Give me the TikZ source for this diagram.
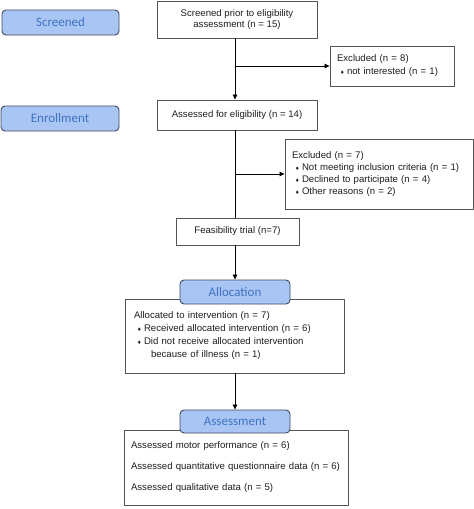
\documentclass[tikz,border=0pt]{standalone}
\usepackage{fontspec}
\setmainfont{Liberation Sans}
\newfontfamily\labfont{Carlito}
\newfontfamily\symfont{DejaVu Sans}
\usetikzlibrary{arrows.meta}
\definecolor{lblfill}{HTML}{A9C5F4}
\definecolor{lblborder}{HTML}{3E4A63}
\definecolor{lbltext}{HTML}{3F72C2}
\definecolor{boxgray}{HTML}{555555}
\definecolor{textc}{HTML}{1E1E1E}
\newcommand{\bul}{{\symfont\fontsize{5}{5}\selectfont ♦}}
\newcommand{\bitem}{\hspace*{3pt}\makebox[7pt][l]{\bul}}
\tikzset{
  box/.style={draw=boxgray, line width=0.9pt, fill=white, inner ysep=0pt, text=textc},
  lbl/.style={draw=lblborder, line width=0.9pt, fill=lblfill, rounded corners=4pt,
    font=\labfont\fontsize{13}{13}\selectfont, text=lbltext, inner sep=0pt},
  conn/.style={line width=0.8pt, black},
  arr/.style={conn, -{Triangle[length=5pt,width=4.5pt]}}
}
\begin{document}
\begin{tikzpicture}[x=1pt,y=-1pt]
\useasboundingbox[fill=white] (0,0) rectangle (474,509);
\coordinate (spine) at (235,0);

% stage labels
\node[lbl, minimum width=117, minimum height=25] (screened) at (60.5,22.5) {Screened};
\node[lbl, minimum width=118, minimum height=25] (enrol) at (60,118.5) {Enrollment};

% boxes
\node[box, minimum width=160, minimum height=37, align=center, inner xsep=0pt,
  font=\fontsize{9.6}{11.5}\selectfont] (b1) at (237,19.5)
  {Screened prior to eligibility\\assessment (n = 15)};
\node[box, minimum width=160, minimum height=30, align=center, inner xsep=0pt,
  font=\fontsize{9.6}{11.5}\selectfont] (b2) at (237,115)
  {Assessed for eligibility (n = 14)};
\node[box, text width=110, inner xsep=7pt, minimum height=40, align=left,
  font=\fontsize{9.6}{13}\selectfont] (ex1) at (392,66)
  {Excluded (n = 8)\\\bitem not interested (n = 1)};
\node[box, text width=174, inner xsep=7pt, minimum height=70, align=left,
  font=\fontsize{9.6}{12.3}\selectfont] (ex2) at (379,174)
  {Excluded (n = 7)\\
   \bitem Not meeting inclusion criteria (n = 1)\\
   \bitem Declined to participate (n = 4)\\
   \bitem Other reasons (n = 2)\\[6pt]};
\node[box, minimum width=123, minimum height=27, align=center, inner xsep=0pt,
  font=\fontsize{9.6}{11.5}\selectfont] (feas) at (237.5,231.5)
  {Feasibility trial (n=7)};
\node[box, text width=201, inner xsep=9pt, minimum height=74, align=left,
  font=\fontsize{9.6}{13}\selectfont] (alloc) at (234.5,336)
  {Allocated to intervention (n = 7)\\
   \bitem Received allocated intervention (n = 6)\\
   \bitem Did not receive allocated intervention\\
   \hspace*{17pt}because of illness (n = 1)\\[4pt]};
\node[box, text width=210, inner xsep=7pt, minimum height=75, align=left,
  font=\fontsize{9.6}{21}\selectfont] (assess) at (236,467.5)
  {Assessed motor performance (n = 6)\\
   Assessed quantitative questionnaire data (n = 6)\\
   Assessed qualitative data (n = 5)\\[-6pt]};

\node[lbl, minimum width=110, minimum height=24] (alloclbl) at (235,292) {Allocation};
\node[lbl, minimum width=110, minimum height=23] (assesslbl) at (235,421.5) {Assessment};

% connectors
\draw[arr] (spine |- b1.south) -- (spine |- b2.north);
\draw[arr] (spine |- ex1.west) -- (ex1.west);
\draw[conn] (spine |- b2.south) -- (spine |- feas.north);
\draw[arr] (spine |- ex2.west) -- (ex2.west);
\draw[arr] (spine |- feas.south) -- (spine |- alloclbl.north);
\draw[arr] (spine |- alloc.south) -- (spine |- assesslbl.north);
\end{tikzpicture}
\end{document}
